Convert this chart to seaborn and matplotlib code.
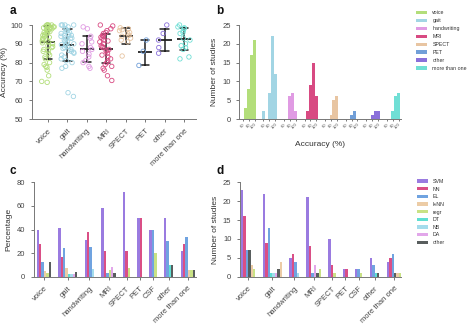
import numpy as np
import pandas as pd
import matplotlib
matplotlib.use("Agg")
import matplotlib.pyplot as plt
import seaborn as sns

# ---- data -------------------------------------------------------------
modalities = ["voice", "gait", "handwriting", "MRI", "SPECT", "PET", "other", "more than one"]
mod_colors = ["#b3de7a", "#a2d5e4", "#e09be3", "#d84a82", "#e8c5a2", "#719fd8", "#8a70da", "#70dfd5"]

# panel a: individual study accuracies (%)
acc_voice = [69.5, 70, 73, 76, 77.5, 78, 79, 80, 82, 83, 84, 85, 86, 86.5, 87, 88, 88.5, 89, 90,
             90.5, 91, 91.5, 92, 92.5, 93, 93.5, 94, 94.5, 95, 95.5, 96, 96, 96.5, 97, 97, 97.5,
             98, 98, 98.5, 98.5, 99, 99, 99, 99.5, 99.5, 100, 100, 100, 100]
acc_gait = [62, 64, 77, 78, 80, 81, 82, 83, 84, 85, 85.5, 86, 86.5, 87, 87.5, 88, 88.5, 89, 89.5,
            90, 90, 91, 91.5, 92, 92.5, 93, 93, 93.5, 94, 94.5, 94.5, 95, 95.5, 96, 96.5, 97,
            97.5, 98, 99, 100, 100, 100, 100]
acc_handwriting = [77, 78, 80, 81, 83, 84.5, 86, 87, 88, 90, 91, 93, 94, 98, 99]
acc_mri = [70.5, 73, 76, 77, 78, 79, 80, 81, 82, 83, 84, 85, 86, 86.5, 87, 88, 88.5, 89, 90, 91,
           91.5, 92, 93, 93.5, 94, 94.5, 95.5, 96, 97, 98, 99.5, 100]
acc_spect = [83.5, 91, 92, 93, 94, 94.5, 95.5, 96, 97, 97.5, 98, 98.5]
acc_pet = [78.5, 86, 92]
acc_other = [85, 88, 92, 95.5, 100]
acc_more = [82, 83, 87, 88, 89, 90, 92, 93, 95.5, 96, 97, 98, 98.5, 99, 100]

# panel b: number of studies per accuracy bin
bin_ticks = ["60", "80", "100"]
hist_voice = [0, 3, 8, 17, 21]
hist_gait = [2, 0, 7, 22, 12]
hist_handwriting = [0, 0, 6, 7, 2]
hist_mri = [0, 2, 9, 15, 6]
hist_spect = [0, 0, 1, 5, 6]
hist_pet = [0, 0, 1, 2, 0]
hist_other = [0, 0, 1, 2, 2]
hist_more = [0, 0, 2, 6, 7]

# panels c, d
groups = ["voice", "gait", "handwriting", "MRI", "SPECT", "PET", "CSF", "other", "more than one"]
classifiers = ["SVM", "NN", "EL", "k-NN", "regr", "DT", "NB", "DA", "other"]
clf_colors = ["#9a7be0", "#da4f86", "#70a3e0", "#ecccа6".replace("а", "a"), "#c9e285", "#5fdfd2",
              "#a4dcec", "#e2a7ea", "#595e5e"]
d_plot_order = ["SVM", "NN", "EL", "DT", "NB", "DA", "other", "k-NN", "regr"]

pct_svm = [39.7, 41.5, 31.3, 58.3, 71.4, 50, 40, 50, 22.2]
pct_nn = [27.6, 17.0, 37.5, 22.2, 21.4, 50, 0, 0, 27.8]
pct_el = [12.1, 24.5, 25.0, 2.8, 0, 0, 40, 30, 33.3]
pct_knn = [5.2, 7.5, 0, 0, 0, 0, 0, 0, 5.6]
pct_regr = [3.4, 0, 0, 5.6, 7.1, 0, 20, 0, 5.6]
pct_dt = [0, 1.9, 0, 0, 0, 0, 0, 10, 0]
pct_nb = [0, 1.9, 6.3, 0, 0, 0, 0, 0, 0]
pct_da = [0, 1.9, 0, 8.3, 0, 0, 0, 0, 0]
pct_other = [12.1, 3.8, 0, 2.8, 0, 0, 0, 10, 5.6]

n_svm = [23, 22, 5, 21, 10, 2, 2, 5, 4]
n_nn = [16, 9, 6, 8, 3, 2, 0, 0, 5]
n_el = [7, 13, 4, 1, 0, 0, 2, 3, 6]
n_knn = [3, 4, 0, 0, 0, 0, 0, 0, 1]
n_regr = [2, 0, 0, 2, 1, 0, 1, 0, 1]
n_dt = [0, 1, 0, 0, 0, 0, 0, 1, 0]
n_nb = [0, 1, 1, 0, 0, 0, 0, 0, 0]
n_da = [0, 1, 0, 3, 0, 0, 0, 0, 0]
n_other = [7, 2, 0, 1, 0, 0, 0, 1, 1]

# ---- style ------------------------------------------------------------
sns.set_style("ticks")
plt.rcParams["font.family"] = ["Liberation Sans", "DejaVu Sans"]
plt.rcParams.update({
    "text.color": "#333333", "axes.labelcolor": "#333333",
    "xtick.color": "#777777", "ytick.color": "#777777",
    "xtick.labelcolor": "#444444", "ytick.labelcolor": "#444444",
    "axes.edgecolor": "#777777", "axes.linewidth": 0.7,
    "xtick.major.width": 0.7, "ytick.major.width": 0.7,
    "xtick.major.size": 2.5, "ytick.major.size": 2.5,
    "xtick.labelsize": 5.5, "ytick.labelsize": 5.5, "axes.labelsize": 6,
})

W, H = 474, 324
fig = plt.figure(figsize=(W / 100, H / 100), dpi=100)


def box(l, t, r, b):
    return [l / W, 1 - b / H, (r - l) / W, (b - t) / H]


ax_a = fig.add_axes(box(31.7, 25, 196, 119))
ax_b = fig.add_axes(box(239, 25, 401, 119))
ax_c = fig.add_axes(box(33.5, 182.3, 195.7, 276.7))
ax_d = fig.add_axes(box(239.7, 182.3, 401, 276.7))

# ---- a ----------------------------------------------------------------
acc = dict(zip(modalities, [acc_voice, acc_gait, acc_handwriting, acc_mri,
                            acc_spect, acc_pet, acc_other, acc_more]))
df_a = pd.DataFrame([(m, v) for m in modalities for v in acc[m]], columns=["modality", "accuracy"])
np.random.seed(2)
sns.stripplot(data=df_a, x="modality", y="accuracy", hue="modality", order=modalities,
              hue_order=modalities, palette=mod_colors, jitter=0.34, size=3.2, linewidth=0,
              legend=False, ax=ax_a)
for coll in ax_a.collections:
    fc = coll.get_facecolors()
    coll.set_facecolors("none")
    coll.set_edgecolors(fc)
    coll.set_linewidth(0.6)
    coll.set_clip_on(False)
sns.pointplot(data=df_a, x="modality", y="accuracy", order=modalities, errorbar="sd",
              color="#222222", linestyle="none", marker="_", markersize=10, markeredgewidth=1.3,
              capsize=0.42, err_kws={"linewidth": 1.1}, ax=ax_a)
ax_a.set_ylim(50, 100)
ax_a.set_xlim(-0.84, 7.62)
ax_a.set_yticks([50, 60, 70, 80, 90, 100])
ax_a.set_ylabel("Accuracy (%)", labelpad=2)
ax_a.set_xlabel("")
ax_a.set_xticks(range(len(modalities)))
ax_a.set_xticklabels(modalities, rotation=45, ha="right", rotation_mode="anchor")

# ---- b ----------------------------------------------------------------
hist = dict(zip(modalities, [hist_voice, hist_gait, hist_handwriting, hist_mri,
                             hist_spect, hist_pet, hist_other, hist_more]))
rows = []
for gi, m in enumerate(modalities):
    for k, c in enumerate(hist[m]):
        rows.append((gi * 7 + k, m, c))
df_b = pd.DataFrame(rows, columns=["pos", "modality", "count"])
sns.barplot(data=df_b, x="pos", y="count", hue="modality", hue_order=modalities,
            palette=mod_colors, native_scale=True, dodge=False, width=1, errorbar=None,
            linewidth=0, saturation=1, ax=ax_b)
ax_b.set_ylim(0, 25)
ax_b.set_xlim(-1.3, 53.8)
ax_b.set_yticks([0, 5, 10, 15, 20, 25])
ax_b.set_xticks([gi * 7 + k for gi in range(len(modalities)) for k in (0, 2, 4)])
ax_b.set_xticklabels(bin_ticks * len(modalities), rotation=45, ha="right",
                     rotation_mode="anchor", fontsize=3)
ax_b.tick_params(axis="x", length=1.5, pad=1)
ax_b.set_ylabel("Number of studies", labelpad=3)
ax_b.set_xlabel("Accuracy (%)", labelpad=8)
sns.move_legend(ax_b, "upper left", bbox_to_anchor=(416 / W, 1 - 10.5 / H),
                bbox_transform=fig.transFigure, title=None, frameon=False, fontsize=3.8,
                handlelength=2.1, handleheight=0.6, handletextpad=1.0, labelspacing=0.55,
                borderpad=0, borderaxespad=0)


# ---- c, d ---------------------------------------------------------------
def slot_table(values, order, gap=3):
    rows, centers, pos = [], [], 0
    for gi in range(len(groups)):
        start = pos
        for clf in order:
            v = values[clf][gi]
            if v > 0:
                rows.append((pos, clf, v))
                pos += 1
        centers.append((start + pos - 1) / 2)
        pos += gap
    return pd.DataFrame(rows, columns=["pos", "clf", "value"]), centers


pct = dict(zip(classifiers, [pct_svm, pct_nn, pct_el, pct_knn, pct_regr, pct_dt, pct_nb, pct_da, pct_other]))
cnt = dict(zip(classifiers, [n_svm, n_nn, n_el, n_knn, n_regr, n_dt, n_nb, n_da, n_other]))

df_c, centers_c = slot_table(pct, classifiers)
sns.barplot(data=df_c, x="pos", y="value", hue="clf", hue_order=classifiers, palette=clf_colors,
            native_scale=True, dodge=False, width=1, errorbar=None, linewidth=0, saturation=1,
            legend=False, ax=ax_c)
ax_c.set_ylim(0, 80)
ax_c.set_xlim(-1.75, 65.8)
ax_c.set_yticks([0, 20, 40, 60, 80])
ax_c.set_ylabel("Percentage", labelpad=3)
ax_c.set_xlabel("")
ax_c.set_xticks(centers_c)
ax_c.set_xticklabels(groups, rotation=45, ha="right", rotation_mode="anchor")

df_d, centers_d = slot_table(cnt, d_plot_order)
sns.barplot(data=df_d, x="pos", y="value", hue="clf", hue_order=classifiers, palette=clf_colors,
            native_scale=True, dodge=False, width=1, errorbar=None, linewidth=0, saturation=1,
            ax=ax_d)
ax_d.set_ylim(0, 25)
ax_d.set_xlim(-0.95, 65.4)
ax_d.set_yticks([0, 5, 10, 15, 20, 25])
ax_d.set_ylabel("Number of studies", labelpad=3)
ax_d.set_xlabel("")
ax_d.set_xticks(centers_d)
ax_d.set_xticklabels(groups, rotation=45, ha="right", rotation_mode="anchor")
sns.move_legend(ax_d, "upper left", bbox_to_anchor=(416.5 / W, 1 - 179 / H),
                bbox_transform=fig.transFigure, title=None, frameon=False, fontsize=3.8,
                handlelength=2.1, handleheight=0.6, handletextpad=1.0, labelspacing=0.5,
                borderpad=0, borderaxespad=0)

for ax in (ax_a, ax_b, ax_c, ax_d):
    sns.despine(ax=ax)

for lab, x, y in (("a", 13, 11), ("b", 220, 11), ("c", 13, 171), ("d", 220, 171)):
    fig.text(x / W, 1 - y / H, lab, fontsize=8.5, fontweight="bold", color="#111111",
             ha="center", va="center")

fig.savefig("out.png", dpi=100)
